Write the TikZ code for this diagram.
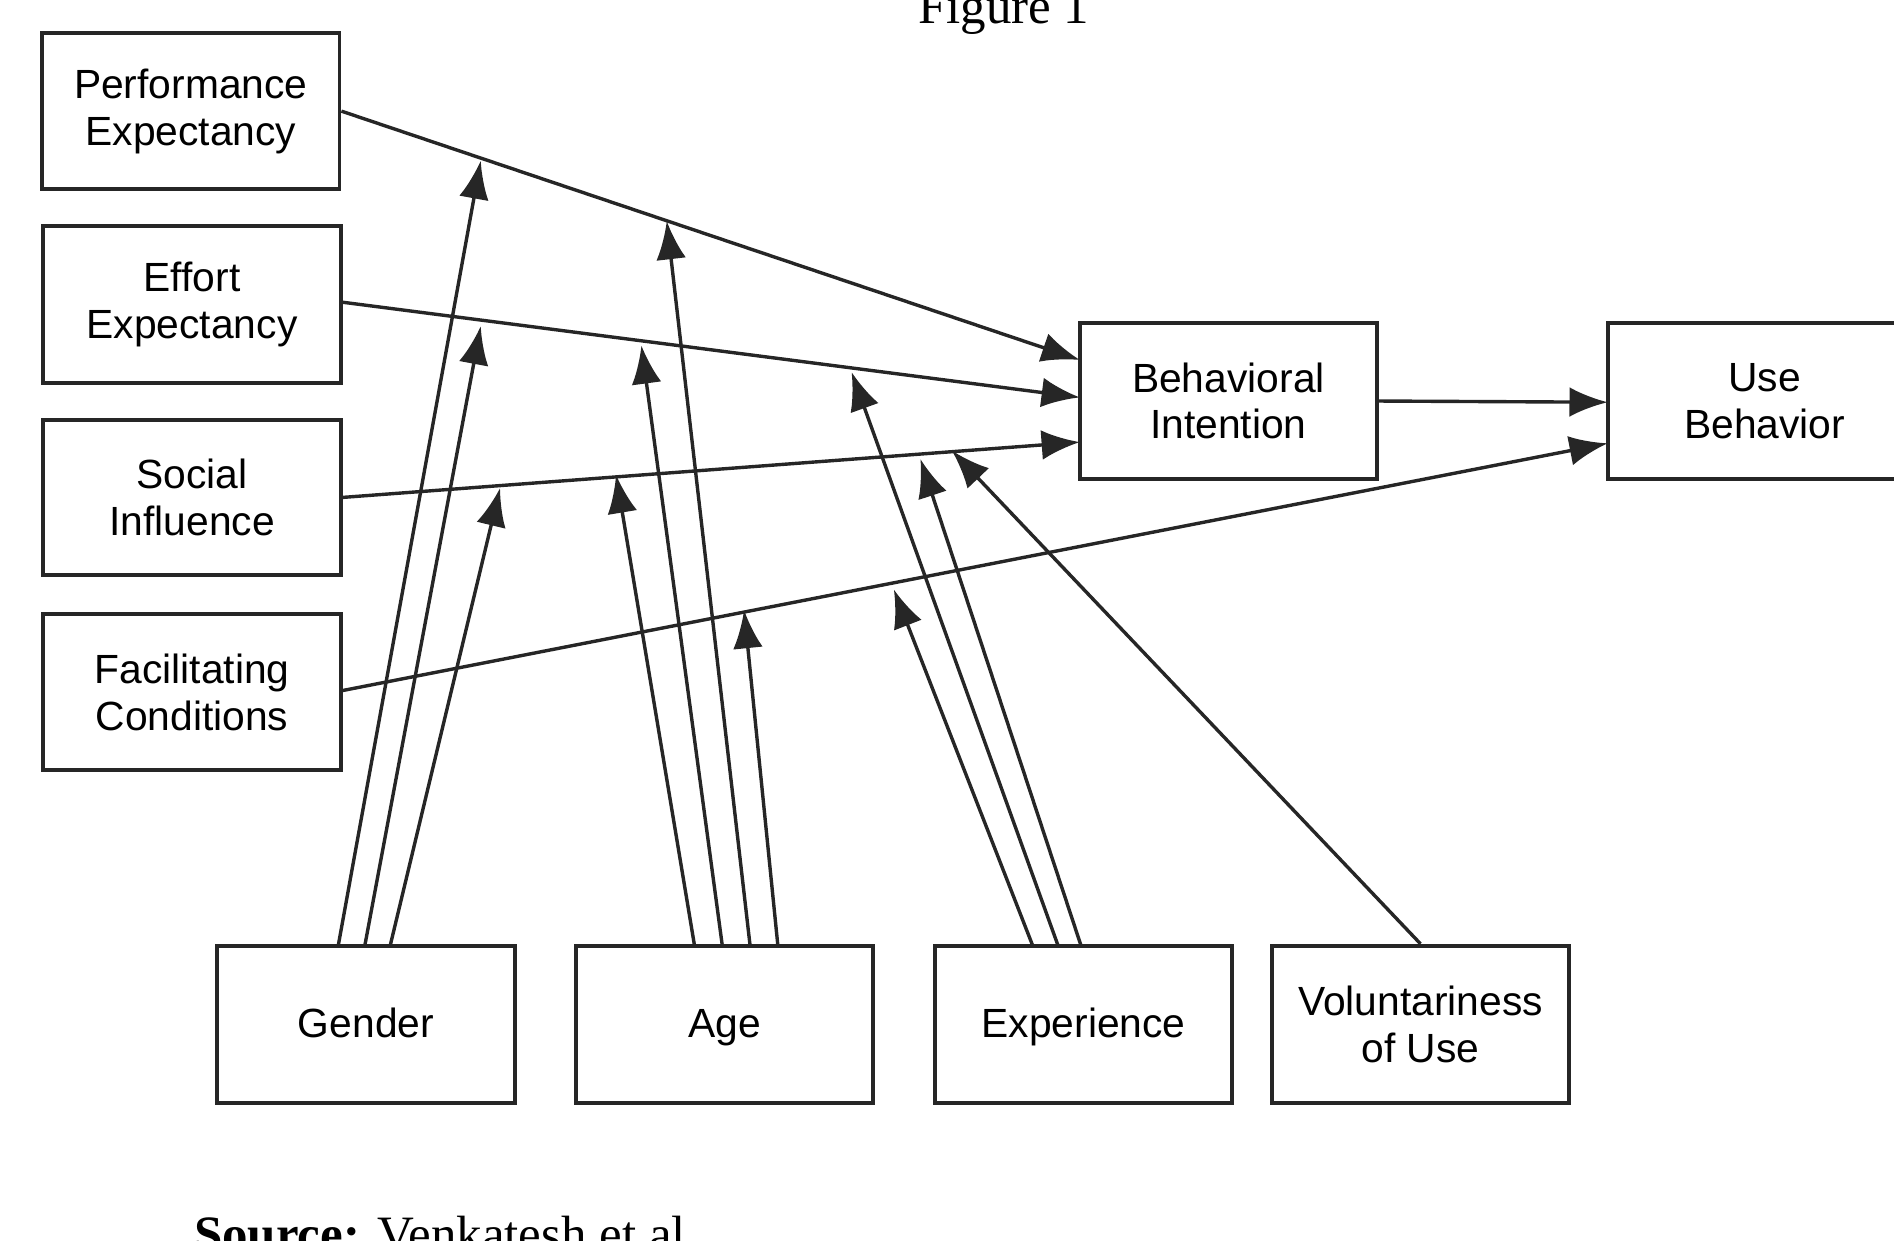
\documentclass[tikz,border=0pt]{standalone}
\usepackage{fontspec}
\setmainfont{Liberation Sans}
\newfontfamily\tnr{Liberation Serif}
\usetikzlibrary{arrows.meta}
\begin{document}
\begin{tikzpicture}[x=0.01cm,y=-0.01cm,
  box/.style={draw=black!85,line width=0.9pt,minimum width=2.46cm,minimum height=1.29cm,align=center,font=\fontsize{9.6}{11}\selectfont,inner sep=0pt},
  arr/.style={draw=black!85,line width=0.8pt,-{Latex[length=9pt,width=7pt]}}]
\useasboundingbox (0,0) rectangle (1568,1027);
\node[font=\tnr\fontsize{12}{14}\selectfont] (title) at (831,10) {Figure 1};
\node[box] (pe) at (158,92) {Performance\\Expectancy};
\node[box,minimum height=1.30cm] (ee) at (159,252) {Effort\\Expectancy};
\node[box,minimum height=1.28cm] (si) at (159,412) {Social\\Influence};
\node[box] (fc) at (159,573) {Facilitating\\Conditions};
\node[box] (bi) at (1017,332) {Behavioral\\Intention};
\node[box,minimum width=2.6cm] (ub) at (1461,332) {Use\\Behavior};
\node[box,minimum height=1.30cm,text height=1.6ex,text depth=0.4ex] (g) at (303,848) {Gender};
\node[box,minimum height=1.30cm,text height=1.6ex,text depth=0.4ex] (a) at (600,848) {Age};
\node[box,minimum height=1.30cm,text height=1.6ex,text depth=0.4ex] (x) at (897,848) {Experience};
\node[box,minimum height=1.30cm] (v) at (1176,848) {Voluntariness\\of Use};
\node[font=\tnr\fontsize{12}{14}\selectfont,anchor=base west,inner sep=0pt] (src) at (160,1036) {\textbf{Source:} Venkatesh et al.};
% main paths
\draw[arr] (pe.east) -- (894,298);
\draw[arr] (282,250) -- (894,329);
\draw[arr] (281,412) -- (894,366);
\draw[arr] (282,572) -- (1331,367);
\draw[arr] (bi.east) -- (1331,333);
% target points on paths
\coordinate (g1) at (398,133); \coordinate (g2) at (398,270); \coordinate (g3) at (414,404);
\coordinate (a1) at (510,393); \coordinate (a2) at (531,286); \coordinate (a3) at (552,183); \coordinate (a4) at (616,505);
\coordinate (x1) at (740,488); \coordinate (x2) at (705,308); \coordinate (x3) at (762,380);
\coordinate (v1) at (788,373);
\draw[arr] (280,783) -- (g1);
\draw[arr] (302,783) -- (g2);
\draw[arr] (323,783) -- (g3);
\draw[arr] (575,783) -- (a1);
\draw[arr] (598,783) -- (a2);
\draw[arr] (621,783) -- (a3);
\draw[arr] (644,783) -- (a4);
\draw[arr] (855,783) -- (x1);
\draw[arr] (876,783) -- (x2);
\draw[arr] (895,783) -- (x3);
\draw[arr] (v.north) -- (v1);
\end{tikzpicture}
\end{document}
